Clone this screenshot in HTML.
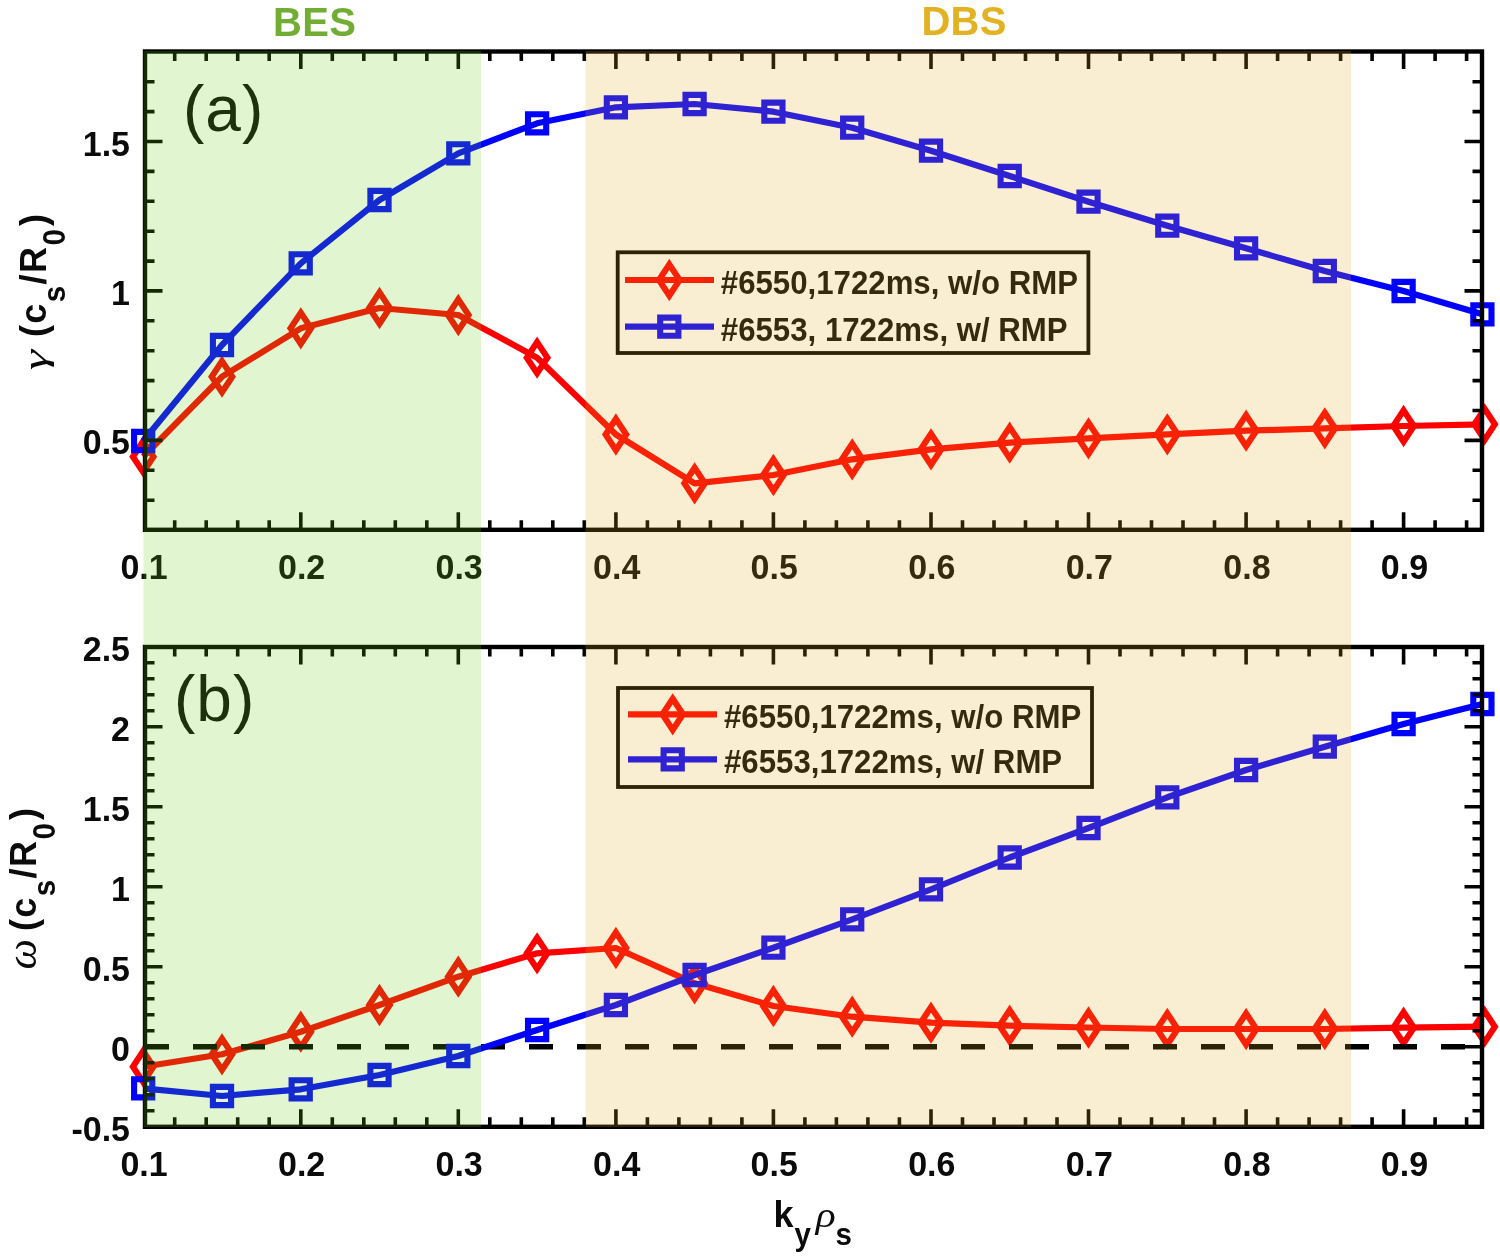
<!DOCTYPE html>
<html lang="en"><head><meta charset="utf-8"><title>Figure</title><style>
html,body{margin:0;padding:0;background:#fff}
body{width:1500px;height:1260px;overflow:hidden}
svg{display:block;filter:blur(0.55px)}
text{font-family:"Liberation Sans",Arial,Helvetica,sans-serif;fill:#0b0b0b}
.tk{font-size:34px;font-weight:700}
.lg{font-size:31.2px;font-weight:700}
.lb{font-size:36px;font-weight:700}
.sub{font-size:29.5px}
.gr{font-family:"Liberation Serif","DejaVu Serif",serif;font-style:italic;font-weight:400;font-size:40px}
.pl{font-size:64px;font-weight:400;letter-spacing:1px}
.tt{font-size:40px;font-weight:700;letter-spacing:0.3px}
</style></head><body>
<svg width="1500" height="1260" viewBox="0 0 1500 1260">
<rect width="1500" height="1260" fill="#fff"/>
<polyline points="143.2,456.7 222.0,376.7 300.8,328.3 379.5,308.0 458.3,315.0 537.1,357.7 615.9,434.5 694.6,483.3 773.4,475.0 852.2,459.3 931.0,449.3 1009.7,442.7 1088.5,438.3 1167.3,434.3 1246.1,430.7 1324.8,428.3 1403.6,426.0 1482.4,424.3" fill="none" stroke="#ff0000" stroke-width="6.2" stroke-linejoin="round"/>
<path d="M143.2 441.1l10.3 15.6l-10.3 15.6l-10.3 -15.6zM222.0 361.1l10.3 15.6l-10.3 15.6l-10.3 -15.6zM300.8 312.7l10.3 15.6l-10.3 15.6l-10.3 -15.6zM379.5 292.4l10.3 15.6l-10.3 15.6l-10.3 -15.6zM458.3 299.4l10.3 15.6l-10.3 15.6l-10.3 -15.6zM537.1 342.1l10.3 15.6l-10.3 15.6l-10.3 -15.6zM615.9 418.9l10.3 15.6l-10.3 15.6l-10.3 -15.6zM694.6 467.7l10.3 15.6l-10.3 15.6l-10.3 -15.6zM773.4 459.4l10.3 15.6l-10.3 15.6l-10.3 -15.6zM852.2 443.7l10.3 15.6l-10.3 15.6l-10.3 -15.6zM931.0 433.7l10.3 15.6l-10.3 15.6l-10.3 -15.6zM1009.7 427.1l10.3 15.6l-10.3 15.6l-10.3 -15.6zM1088.5 422.7l10.3 15.6l-10.3 15.6l-10.3 -15.6zM1167.3 418.7l10.3 15.6l-10.3 15.6l-10.3 -15.6zM1246.1 415.1l10.3 15.6l-10.3 15.6l-10.3 -15.6zM1324.8 412.7l10.3 15.6l-10.3 15.6l-10.3 -15.6zM1403.6 410.4l10.3 15.6l-10.3 15.6l-10.3 -15.6zM1484.6 408.7l10.3 15.6l-10.3 15.6l-10.3 -15.6z" fill="none" stroke="#ff0000" stroke-width="6.1" stroke-linejoin="miter" stroke-miterlimit="10"/>
<polyline points="143.2,441.0 222.0,345.0 300.8,263.3 379.5,200.0 458.3,153.3 537.1,123.3 615.9,107.3 694.6,104.0 773.4,111.7 852.2,127.7 931.0,150.7 1009.7,176.0 1088.5,201.7 1167.3,225.7 1246.1,248.3 1324.8,271.0 1403.6,291.0 1482.4,314.3" fill="none" stroke="#0000ff" stroke-width="6.2" stroke-linejoin="round"/>
<path d="M134.1 431.9h18.2v18.2h-18.2zM212.9 335.9h18.2v18.2h-18.2zM291.6 254.2h18.2v18.2h-18.2zM370.4 190.9h18.2v18.2h-18.2zM449.2 144.2h18.2v18.2h-18.2zM528.0 114.2h18.2v18.2h-18.2zM606.8 98.2h18.2v18.2h-18.2zM685.5 94.9h18.2v18.2h-18.2zM764.3 102.6h18.2v18.2h-18.2zM843.1 118.6h18.2v18.2h-18.2zM921.9 141.6h18.2v18.2h-18.2zM1000.6 166.9h18.2v18.2h-18.2zM1079.4 192.6h18.2v18.2h-18.2zM1158.2 216.6h18.2v18.2h-18.2zM1237.0 239.2h18.2v18.2h-18.2zM1315.7 261.9h18.2v18.2h-18.2zM1394.5 281.9h18.2v18.2h-18.2zM1473.3 305.2h18.2v18.2h-18.2z" fill="none" stroke="#0000ff" stroke-width="6.1" stroke-linejoin="miter" stroke-miterlimit="10"/>
<path d="M174.7 51.5v9.5M174.7 529.8v-9.5M206.2 51.5v9.5M206.2 529.8v-9.5M237.7 51.5v9.5M237.7 529.8v-9.5M269.2 51.5v9.5M269.2 529.8v-9.5M300.8 51.5v17.5M300.8 529.8v-17.5M332.3 51.5v9.5M332.3 529.8v-9.5M363.8 51.5v9.5M363.8 529.8v-9.5M395.3 51.5v9.5M395.3 529.8v-9.5M426.8 51.5v9.5M426.8 529.8v-9.5M458.3 51.5v17.5M458.3 529.8v-17.5M489.8 51.5v9.5M489.8 529.8v-9.5M521.3 51.5v9.5M521.3 529.8v-9.5M552.8 51.5v9.5M552.8 529.8v-9.5M584.3 51.5v9.5M584.3 529.8v-9.5M615.9 51.5v17.5M615.9 529.8v-17.5M647.4 51.5v9.5M647.4 529.8v-9.5M678.9 51.5v9.5M678.9 529.8v-9.5M710.4 51.5v9.5M710.4 529.8v-9.5M741.9 51.5v9.5M741.9 529.8v-9.5M773.4 51.5v17.5M773.4 529.8v-17.5M804.9 51.5v9.5M804.9 529.8v-9.5M836.4 51.5v9.5M836.4 529.8v-9.5M867.9 51.5v9.5M867.9 529.8v-9.5M899.4 51.5v9.5M899.4 529.8v-9.5M931.0 51.5v17.5M931.0 529.8v-17.5M962.5 51.5v9.5M962.5 529.8v-9.5M994.0 51.5v9.5M994.0 529.8v-9.5M1025.5 51.5v9.5M1025.5 529.8v-9.5M1057.0 51.5v9.5M1057.0 529.8v-9.5M1088.5 51.5v17.5M1088.5 529.8v-17.5M1120.0 51.5v9.5M1120.0 529.8v-9.5M1151.5 51.5v9.5M1151.5 529.8v-9.5M1183.0 51.5v9.5M1183.0 529.8v-9.5M1214.5 51.5v9.5M1214.5 529.8v-9.5M1246.1 51.5v17.5M1246.1 529.8v-17.5M1277.6 51.5v9.5M1277.6 529.8v-9.5M1309.1 51.5v9.5M1309.1 529.8v-9.5M1340.6 51.5v9.5M1340.6 529.8v-9.5M1372.1 51.5v9.5M1372.1 529.8v-9.5M1403.6 51.5v17.5M1403.6 529.8v-17.5M1435.1 51.5v9.5M1435.1 529.8v-9.5M1466.6 51.5v9.5M1466.6 529.8v-9.5M145.0 440.4h17.5M1482.0 440.4h-17.5M145.0 290.9h17.5M1482.0 290.9h-17.5M145.0 141.5h17.5M1482.0 141.5h-17.5M145.0 500.2h9.5M1482.0 500.2h-9.5M145.0 470.3h9.5M1482.0 470.3h-9.5M145.0 440.4h9.5M1482.0 440.4h-9.5M145.0 410.5h9.5M1482.0 410.5h-9.5M145.0 380.6h9.5M1482.0 380.6h-9.5M145.0 350.7h9.5M1482.0 350.7h-9.5M145.0 320.8h9.5M1482.0 320.8h-9.5M145.0 290.9h9.5M1482.0 290.9h-9.5M145.0 261.1h9.5M1482.0 261.1h-9.5M145.0 231.2h9.5M1482.0 231.2h-9.5M145.0 201.3h9.5M1482.0 201.3h-9.5M145.0 171.4h9.5M1482.0 171.4h-9.5M145.0 141.5h9.5M1482.0 141.5h-9.5M145.0 111.6h9.5M1482.0 111.6h-9.5M145.0 81.7h9.5M1482.0 81.7h-9.5" stroke="#000" stroke-width="3.6" fill="none"/>
<rect x="145" y="51.5" width="1337" height="478.29999999999995" fill="none" stroke="#000" stroke-width="4.4"/>
<rect x="617.7" y="252.3" width="470.7" height="100.7" fill="#fff" stroke="#000" stroke-width="3.8"/>
<path d="M625 280H714" stroke="#ff0000" stroke-width="6.2"/>
<path d="M669.3 264.4l10.3 15.6l-10.3 15.6l-10.3 -15.6z" fill="none" stroke="#ff0000" stroke-width="6.1" stroke-miterlimit="10"/>
<path d="M625 326.7H714" stroke="#0000ff" stroke-width="6.2"/>
<path d="M660.2 317.6h18.2v18.2h-18.2z" fill="none" stroke="#0000ff" stroke-width="6.1"/>
<text transform="translate(720.8 294.2) scale(1 1.04)" class="lg">#6550,1722ms, w/o RMP</text>
<text transform="translate(720.8 340.9) scale(1 1.04)" class="lg">#6553, 1722ms, w/ RMP</text>
<polyline points="143.2,1066.7 222.0,1054.3 300.8,1031.7 379.5,1005.0 458.3,976.7 537.1,953.3 615.9,948.0 694.6,983.3 773.4,1006.0 852.2,1016.7 931.0,1022.7 1009.7,1025.7 1088.5,1027.5 1167.3,1029.0 1246.1,1029.0 1324.8,1029.0 1403.6,1027.7 1482.4,1026.7" fill="none" stroke="#ff0000" stroke-width="6.2" stroke-linejoin="round"/>
<path d="M143.2 1051.1l10.3 15.6l-10.3 15.6l-10.3 -15.6zM222.0 1038.7l10.3 15.6l-10.3 15.6l-10.3 -15.6zM300.8 1016.1l10.3 15.6l-10.3 15.6l-10.3 -15.6zM379.5 989.4l10.3 15.6l-10.3 15.6l-10.3 -15.6zM458.3 961.1l10.3 15.6l-10.3 15.6l-10.3 -15.6zM537.1 937.7l10.3 15.6l-10.3 15.6l-10.3 -15.6zM615.9 932.4l10.3 15.6l-10.3 15.6l-10.3 -15.6zM694.6 967.7l10.3 15.6l-10.3 15.6l-10.3 -15.6zM773.4 990.4l10.3 15.6l-10.3 15.6l-10.3 -15.6zM852.2 1001.1l10.3 15.6l-10.3 15.6l-10.3 -15.6zM931.0 1007.1l10.3 15.6l-10.3 15.6l-10.3 -15.6zM1009.7 1010.1l10.3 15.6l-10.3 15.6l-10.3 -15.6zM1088.5 1011.9l10.3 15.6l-10.3 15.6l-10.3 -15.6zM1167.3 1013.4l10.3 15.6l-10.3 15.6l-10.3 -15.6zM1246.1 1013.4l10.3 15.6l-10.3 15.6l-10.3 -15.6zM1324.8 1013.4l10.3 15.6l-10.3 15.6l-10.3 -15.6zM1403.6 1012.1l10.3 15.6l-10.3 15.6l-10.3 -15.6zM1484.6 1011.1l10.3 15.6l-10.3 15.6l-10.3 -15.6z" fill="none" stroke="#ff0000" stroke-width="6.1" stroke-linejoin="miter" stroke-miterlimit="10"/>
<path d="M145 1046.7H1482" stroke="#000" stroke-width="5.4" stroke-dasharray="24 24" fill="none"/>
<polyline points="143.2,1088.3 222.0,1096.0 300.8,1089.3 379.5,1075.0 458.3,1056.0 537.1,1030.0 615.9,1005.0 694.6,975.0 773.4,947.7 852.2,919.3 931.0,889.3 1009.7,857.5 1088.5,828.0 1167.3,797.3 1246.1,770.0 1324.8,746.7 1403.6,724.0 1482.4,704.0" fill="none" stroke="#0000ff" stroke-width="6.2" stroke-linejoin="round"/>
<path d="M134.1 1079.2h18.2v18.2h-18.2zM212.9 1086.9h18.2v18.2h-18.2zM291.6 1080.2h18.2v18.2h-18.2zM370.4 1065.9h18.2v18.2h-18.2zM449.2 1046.9h18.2v18.2h-18.2zM528.0 1020.9h18.2v18.2h-18.2zM606.8 995.9h18.2v18.2h-18.2zM685.5 965.9h18.2v18.2h-18.2zM764.3 938.6h18.2v18.2h-18.2zM843.1 910.2h18.2v18.2h-18.2zM921.9 880.2h18.2v18.2h-18.2zM1000.6 848.4h18.2v18.2h-18.2zM1079.4 818.9h18.2v18.2h-18.2zM1158.2 788.2h18.2v18.2h-18.2zM1237.0 760.9h18.2v18.2h-18.2zM1315.7 737.6h18.2v18.2h-18.2zM1394.5 714.9h18.2v18.2h-18.2zM1473.3 694.9h18.2v18.2h-18.2z" fill="none" stroke="#0000ff" stroke-width="6.1" stroke-linejoin="miter" stroke-miterlimit="10"/>
<path d="M174.7 647.0v9.5M174.7 1126.8v-9.5M206.2 647.0v9.5M206.2 1126.8v-9.5M237.7 647.0v9.5M237.7 1126.8v-9.5M269.2 647.0v9.5M269.2 1126.8v-9.5M300.8 647.0v17.5M300.8 1126.8v-17.5M332.3 647.0v9.5M332.3 1126.8v-9.5M363.8 647.0v9.5M363.8 1126.8v-9.5M395.3 647.0v9.5M395.3 1126.8v-9.5M426.8 647.0v9.5M426.8 1126.8v-9.5M458.3 647.0v17.5M458.3 1126.8v-17.5M489.8 647.0v9.5M489.8 1126.8v-9.5M521.3 647.0v9.5M521.3 1126.8v-9.5M552.8 647.0v9.5M552.8 1126.8v-9.5M584.3 647.0v9.5M584.3 1126.8v-9.5M615.9 647.0v17.5M615.9 1126.8v-17.5M647.4 647.0v9.5M647.4 1126.8v-9.5M678.9 647.0v9.5M678.9 1126.8v-9.5M710.4 647.0v9.5M710.4 1126.8v-9.5M741.9 647.0v9.5M741.9 1126.8v-9.5M773.4 647.0v17.5M773.4 1126.8v-17.5M804.9 647.0v9.5M804.9 1126.8v-9.5M836.4 647.0v9.5M836.4 1126.8v-9.5M867.9 647.0v9.5M867.9 1126.8v-9.5M899.4 647.0v9.5M899.4 1126.8v-9.5M931.0 647.0v17.5M931.0 1126.8v-17.5M962.5 647.0v9.5M962.5 1126.8v-9.5M994.0 647.0v9.5M994.0 1126.8v-9.5M1025.5 647.0v9.5M1025.5 1126.8v-9.5M1057.0 647.0v9.5M1057.0 1126.8v-9.5M1088.5 647.0v17.5M1088.5 1126.8v-17.5M1120.0 647.0v9.5M1120.0 1126.8v-9.5M1151.5 647.0v9.5M1151.5 1126.8v-9.5M1183.0 647.0v9.5M1183.0 1126.8v-9.5M1214.5 647.0v9.5M1214.5 1126.8v-9.5M1246.1 647.0v17.5M1246.1 1126.8v-17.5M1277.6 647.0v9.5M1277.6 1126.8v-9.5M1309.1 647.0v9.5M1309.1 1126.8v-9.5M1340.6 647.0v9.5M1340.6 1126.8v-9.5M1372.1 647.0v9.5M1372.1 1126.8v-9.5M1403.6 647.0v17.5M1403.6 1126.8v-17.5M1435.1 647.0v9.5M1435.1 1126.8v-9.5M1466.6 647.0v9.5M1466.6 1126.8v-9.5M145.0 1046.7h17.5M1482.0 1046.7h-17.5M145.0 966.7h17.5M1482.0 966.7h-17.5M145.0 886.7h17.5M1482.0 886.7h-17.5M145.0 806.7h17.5M1482.0 806.7h-17.5M145.0 726.7h17.5M1482.0 726.7h-17.5M145.0 1110.7h9.5M1482.0 1110.7h-9.5M145.0 1094.7h9.5M1482.0 1094.7h-9.5M145.0 1078.7h9.5M1482.0 1078.7h-9.5M145.0 1062.7h9.5M1482.0 1062.7h-9.5M145.0 1046.7h9.5M1482.0 1046.7h-9.5M145.0 1030.7h9.5M1482.0 1030.7h-9.5M145.0 1014.7h9.5M1482.0 1014.7h-9.5M145.0 998.7h9.5M1482.0 998.7h-9.5M145.0 982.7h9.5M1482.0 982.7h-9.5M145.0 966.7h9.5M1482.0 966.7h-9.5M145.0 950.7h9.5M1482.0 950.7h-9.5M145.0 934.7h9.5M1482.0 934.7h-9.5M145.0 918.7h9.5M1482.0 918.7h-9.5M145.0 902.7h9.5M1482.0 902.7h-9.5M145.0 886.7h9.5M1482.0 886.7h-9.5M145.0 870.7h9.5M1482.0 870.7h-9.5M145.0 854.7h9.5M1482.0 854.7h-9.5M145.0 838.7h9.5M1482.0 838.7h-9.5M145.0 822.7h9.5M1482.0 822.7h-9.5M145.0 806.7h9.5M1482.0 806.7h-9.5M145.0 790.7h9.5M1482.0 790.7h-9.5M145.0 774.7h9.5M1482.0 774.7h-9.5M145.0 758.7h9.5M1482.0 758.7h-9.5M145.0 742.7h9.5M1482.0 742.7h-9.5M145.0 726.7h9.5M1482.0 726.7h-9.5M145.0 710.7h9.5M1482.0 710.7h-9.5M145.0 694.7h9.5M1482.0 694.7h-9.5M145.0 678.7h9.5M1482.0 678.7h-9.5M145.0 662.7h9.5M1482.0 662.7h-9.5" stroke="#000" stroke-width="3.6" fill="none"/>
<rect x="145" y="647" width="1337" height="479.79999999999995" fill="none" stroke="#000" stroke-width="4.4"/>
<rect x="618" y="688" width="474" height="99" fill="#fff" stroke="#000" stroke-width="3.8"/>
<path d="M628 714.3H717" stroke="#ff0000" stroke-width="6.2"/>
<path d="M672.7 698.7l10.3 15.6l-10.3 15.6l-10.3 -15.6z" fill="none" stroke="#ff0000" stroke-width="6.1" stroke-miterlimit="10"/>
<path d="M628 759.3H717" stroke="#0000ff" stroke-width="6.2"/>
<path d="M663.6 750.2h18.2v18.2h-18.2z" fill="none" stroke="#0000ff" stroke-width="6.1"/>
<text transform="translate(724.0 727.7) scale(1 1.04)" class="lg">#6550,1722ms, w/o RMP</text>
<text transform="translate(724.0 772.7) scale(1 1.04)" class="lg">#6553,1722ms, w/ RMP</text>
<text transform="translate(144.0 579.0) scale(1 1.04)" class="tk" text-anchor="middle">0.1</text>
<text transform="translate(144.0 1176.0) scale(1 1.04)" class="tk" text-anchor="middle">0.1</text>
<text transform="translate(301.6 579.0) scale(1 1.04)" class="tk" text-anchor="middle">0.2</text>
<text transform="translate(301.6 1176.0) scale(1 1.04)" class="tk" text-anchor="middle">0.2</text>
<text transform="translate(459.1 579.0) scale(1 1.04)" class="tk" text-anchor="middle">0.3</text>
<text transform="translate(459.1 1176.0) scale(1 1.04)" class="tk" text-anchor="middle">0.3</text>
<text transform="translate(616.7 579.0) scale(1 1.04)" class="tk" text-anchor="middle">0.4</text>
<text transform="translate(616.7 1176.0) scale(1 1.04)" class="tk" text-anchor="middle">0.4</text>
<text transform="translate(774.2 579.0) scale(1 1.04)" class="tk" text-anchor="middle">0.5</text>
<text transform="translate(774.2 1176.0) scale(1 1.04)" class="tk" text-anchor="middle">0.5</text>
<text transform="translate(931.8 579.0) scale(1 1.04)" class="tk" text-anchor="middle">0.6</text>
<text transform="translate(931.8 1176.0) scale(1 1.04)" class="tk" text-anchor="middle">0.6</text>
<text transform="translate(1089.3 579.0) scale(1 1.04)" class="tk" text-anchor="middle">0.7</text>
<text transform="translate(1089.3 1176.0) scale(1 1.04)" class="tk" text-anchor="middle">0.7</text>
<text transform="translate(1246.9 579.0) scale(1 1.04)" class="tk" text-anchor="middle">0.8</text>
<text transform="translate(1246.9 1176.0) scale(1 1.04)" class="tk" text-anchor="middle">0.8</text>
<text transform="translate(1404.4 579.0) scale(1 1.04)" class="tk" text-anchor="middle">0.9</text>
<text transform="translate(1404.4 1176.0) scale(1 1.04)" class="tk" text-anchor="middle">0.9</text>
<text transform="translate(130.0 454.4) scale(1 1.04)" class="tk" text-anchor="end">0.5</text>
<text transform="translate(130.0 304.9) scale(1 1.04)" class="tk" text-anchor="end">1</text>
<text transform="translate(130.0 155.5) scale(1 1.04)" class="tk" text-anchor="end">1.5</text>
<text transform="translate(130.0 1140.5) scale(1 1.04)" class="tk" text-anchor="end">-0.5</text>
<text transform="translate(130.0 1060.5) scale(1 1.04)" class="tk" text-anchor="end">0</text>
<text transform="translate(130.0 980.5) scale(1 1.04)" class="tk" text-anchor="end">0.5</text>
<text transform="translate(130.0 900.5) scale(1 1.04)" class="tk" text-anchor="end">1</text>
<text transform="translate(130.0 820.5) scale(1 1.04)" class="tk" text-anchor="end">1.5</text>
<text transform="translate(130.0 740.5) scale(1 1.04)" class="tk" text-anchor="end">2</text>
<text transform="translate(130.0 660.5) scale(1 1.04)" class="tk" text-anchor="end">2.5</text>
<text transform="translate(183.0 131.3) scale(1 1)" class="pl">(a)</text>
<text transform="translate(174.0 720.5) scale(1 1)" class="pl">(b)</text>
<text transform="translate(773.5 1226.5) scale(1 1.04)" class="lb">k<tspan class="sub" dy="17.5" dx="1">y</tspan></text>
<text transform="translate(815.7 1226.6) scale(1.19 1)" class="gr" style="font-size:35px">ρ</text>
<text transform="translate(835.5 1244.5) scale(1 1.04)" class="lb sub">s</text>
<text transform="translate(46.0 337.0) rotate(-90) scale(1 1.04)" class="lb">(<tspan dx="1.2">c</tspan><tspan class="sub" dy="18.5" dx="1.5">s</tspan><tspan dy="-18.5" dx="1.5">/</tspan><tspan dx="1.5">R</tspan><tspan class="sub" dy="18.5" dx="1.5">0</tspan><tspan dy="-18.5" dx="3">)</tspan></text>
<text transform="translate(47.4 370.3) rotate(-90) scale(1.5 1)" class="gr" style="font-size:34.5px">γ</text>
<text transform="translate(35.5 931.0) rotate(-90) scale(1 1.04)" class="lb">(<tspan dx="1.2">c</tspan><tspan class="sub" dy="18.5" dx="1.5">s</tspan><tspan dy="-18.5" dx="1.5">/</tspan><tspan dx="1.5">R</tspan><tspan class="sub" dy="18.5" dx="1.5">0</tspan><tspan dy="-18.5" dx="3">)</tspan></text>
<text transform="translate(36.2 969.5) rotate(-90) scale(1.0 1)" class="gr" style="font-size:43px">ω</text>
<rect x="143.5" y="51" width="337.5" height="1076" fill="rgb(100,205,20)" fill-opacity="0.2"/>
<rect x="585.5" y="51" width="765.5" height="1076" fill="rgb(230,170,30)" fill-opacity="0.2"/>
<text transform="translate(273.0 35.5) scale(1 1.03)" class="tt" style="fill:#72ad33">BES</text>
<text transform="translate(921.4 34.8) scale(1 1.03)" class="tt" style="fill:#e3b223">DBS</text>
</svg>
</body></html>
